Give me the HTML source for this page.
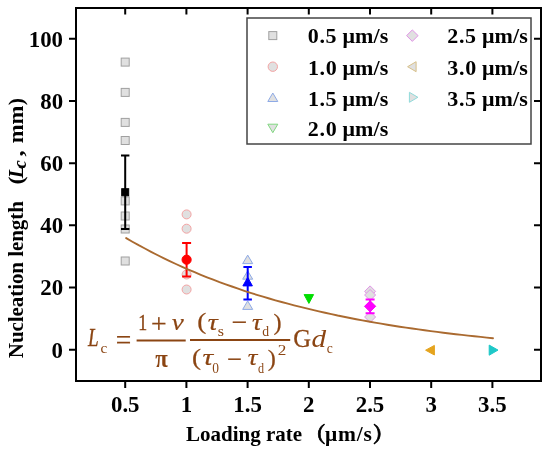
<!DOCTYPE html>
<html><head><meta charset="utf-8"><style>
html,body{margin:0;padding:0;background:#fff;}
body{width:550px;height:453px;overflow:hidden;position:relative;}
svg{position:absolute;left:0;top:0;}
.t{font-family:"Liberation Serif","Noto Serif CJK SC",serif;font-weight:bold;fill:#000;}
</style></head><body>
<svg width="550" height="453" viewBox="0 0 550 453">

<rect x="121.2" y="58.1" width="8" height="8" fill="#e0e0e0" stroke="#a0a0a0" stroke-width="1" opacity="1"/>
<rect x="121.2" y="88.4" width="8" height="8" fill="#e0e0e0" stroke="#a0a0a0" stroke-width="1" opacity="1"/>
<rect x="121.2" y="118.4" width="8" height="8" fill="#e0e0e0" stroke="#a0a0a0" stroke-width="1" opacity="1"/>
<rect x="121.2" y="136.5" width="8" height="8" fill="#e0e0e0" stroke="#a0a0a0" stroke-width="1" opacity="1"/>
<rect x="121.2" y="196.9" width="8" height="8" fill="#e0e0e0" stroke="#a0a0a0" stroke-width="1" opacity="1"/>
<rect x="121.2" y="212.0" width="8" height="8" fill="#e0e0e0" stroke="#a0a0a0" stroke-width="1" opacity="1"/>
<rect x="121.2" y="225.0" width="8" height="8" fill="#e0e0e0" stroke="#a0a0a0" stroke-width="1" opacity="1"/>
<rect x="121.2" y="257.0" width="8" height="8" fill="#e0e0e0" stroke="#a0a0a0" stroke-width="1" opacity="1"/>
<path d="M125.2,155.4 V228.9 M121.0,155.4 H129.4 M121.0,228.9 H129.4" stroke="#000" stroke-width="2" fill="none"/>
<rect x="121.7" y="188.7" width="7" height="7" fill="#000" stroke="#000" stroke-width="1" opacity="1"/>
<circle cx="186.6" cy="214.4" r="4.5" fill="#e0e0e0" stroke="#f4a4a4" stroke-width="1" opacity="1"/>
<circle cx="186.6" cy="228.7" r="4.5" fill="#e0e0e0" stroke="#f4a4a4" stroke-width="1" opacity="1"/>
<circle cx="186.6" cy="274.5" r="4.5" fill="#e0e0e0" stroke="#f4a4a4" stroke-width="1" opacity="1"/>
<circle cx="186.6" cy="289.5" r="4.5" fill="#e0e0e0" stroke="#f4a4a4" stroke-width="1" opacity="1"/>
<path d="M186.6,243.1 V276.5 M182.1,243.1 H191.1 M182.1,276.5 H191.1" stroke="#ff0000" stroke-width="2" fill="none"/>
<circle cx="186.6" cy="259.7" r="4.6" fill="#ff0000" stroke="#ff0000" stroke-width="1" opacity="1"/>
<polygon points="247.7,255.1 252.7,263.6 242.7,263.6" fill="#e0e0e0" stroke="#8eaae6" stroke-width="1" stroke-linejoin="round" opacity="1"/>
<polygon points="247.7,270.8 252.7,279.2 242.7,279.2" fill="#e0e0e0" stroke="#8eaae6" stroke-width="1" stroke-linejoin="round" opacity="1"/>
<polygon points="247.7,300.9 252.7,309.4 242.7,309.4" fill="#e0e0e0" stroke="#8eaae6" stroke-width="1" stroke-linejoin="round" opacity="1"/>
<path d="M247.7,266.9 V299.5 M243.4,266.9 H251.9 M243.4,299.5 H251.9" stroke="#0000ff" stroke-width="2" fill="none"/>
<polygon points="247.7,277.4 252.4,285.9 242.9,285.9" fill="#0000ff" stroke="#0000ff" stroke-width="1" stroke-linejoin="round" opacity="1"/>
<polygon points="308.9,303.4 313.6,294.6 304.1,294.6" fill="#00dd00" stroke="#00dd00" stroke-width="1" stroke-linejoin="round" opacity="1"/>
<polygon points="370.1,285.9 375.6,291.4 370.1,296.9 364.6,291.4" fill="#e0e0e0" stroke="#e294e8" stroke-width="1" opacity="1"/>
<polygon points="370.1,289.5 375.6,295.0 370.1,300.5 364.6,295.0" fill="#e0e0e0" stroke="#e294e8" stroke-width="1" opacity="1"/>
<polygon points="370.1,300.8 375.6,306.3 370.1,311.8 364.6,306.3" fill="#e0e0e0" stroke="#e294e8" stroke-width="1" opacity="1"/>
<polygon points="370.1,311.5 375.6,317.0 370.1,322.5 364.6,317.0" fill="#e0e0e0" stroke="#e294e8" stroke-width="1" opacity="1"/>
<path d="M370.1,299.4 V313.3 M365.6,299.4 H374.6 M365.6,313.3 H374.6" stroke="#ff00ff" stroke-width="2" fill="none"/>
<polygon points="370.1,300.8 375.6,306.3 370.1,311.8 364.6,306.3" fill="#ff00ff" stroke="#ff00ff" stroke-width="1" opacity="1"/>
<polygon points="425.6,350.2 434.4,345.4 434.4,355.0" fill="#e5a41e" stroke="#e5a41e" stroke-width="1" stroke-linejoin="round" opacity="1"/>
<polygon points="498.0,350.1 489.2,345.1 489.2,355.2" fill="#1ec8c8" stroke="#1ec8c8" stroke-width="1" stroke-linejoin="round" opacity="1"/>
<path d="M126.2,238.1 L132.4,241.7 L138.6,245.2 L144.9,248.5 L151.1,251.8 L157.3,255.0 L163.5,258.1 L169.7,261.1 L175.9,264.0 L182.2,266.8 L188.4,269.6 L194.6,272.2 L200.8,274.8 L207.0,277.3 L213.2,279.7 L219.5,282.1 L225.7,284.3 L231.9,286.5 L238.1,288.7 L244.3,290.8 L250.5,292.8 L256.8,294.8 L263.0,296.7 L269.2,298.5 L275.4,300.3 L281.6,302.0 L287.8,303.7 L294.1,305.3 L300.3,306.9 L306.5,308.4 L312.7,309.9 L318.9,311.4 L325.1,312.8 L331.4,314.1 L337.6,315.5 L343.8,316.7 L350.0,318.0 L356.2,319.2 L362.4,320.4 L368.7,321.5 L374.9,322.6 L381.1,323.6 L387.3,324.7 L393.5,325.7 L399.7,326.7 L406.0,327.6 L412.2,328.5 L418.4,329.4 L424.6,330.3 L430.8,331.1 L437.0,331.9 L443.3,332.7 L449.5,333.5 L455.7,334.2 L461.9,334.9 L468.1,335.6 L474.3,336.3 L480.6,336.9 L486.8,337.6 L493.0,338.2" fill="none" stroke="#aa6a30" stroke-width="1.9" stroke-linecap="round"/>
<rect x="76" y="8" width="465" height="373" fill="none" stroke="#000" stroke-width="2"/>
<path d="M125.2,381 V388 M125.2,8 V14.5 M186.4,381 V388 M186.4,8 V14.5 M247.6,381 V388 M247.6,8 V14.5 M308.8,381 V388 M308.8,8 V14.5 M370.0,381 V388 M370.0,8 V14.5 M431.2,381 V388 M431.2,8 V14.5 M492.4,381 V388 M492.4,8 V14.5 M76,349.7 H69 M541,349.7 H534 M76,287.5 H69 M541,287.5 H534 M76,225.3 H69 M541,225.3 H534 M76,163.2 H69 M541,163.2 H534 M76,101.0 H69 M541,101.0 H534 M76,38.8 H69 M541,38.8 H534" stroke="#000" stroke-width="2" fill="none"/>
<text class="t" transform="translate(125.25,412.0) scale(0.97,1)" font-size="23.6" text-anchor="middle">0.5</text>
<text class="t" transform="translate(186.43,412.0) scale(0.97,1)" font-size="23.6" text-anchor="middle">1</text>
<text class="t" transform="translate(247.62,412.0) scale(0.97,1)" font-size="23.6" text-anchor="middle">1.5</text>
<text class="t" transform="translate(308.80,412.0) scale(0.97,1)" font-size="23.6" text-anchor="middle">2</text>
<text class="t" transform="translate(369.99,412.0) scale(0.97,1)" font-size="23.6" text-anchor="middle">2.5</text>
<text class="t" transform="translate(431.17,412.0) scale(0.97,1)" font-size="23.6" text-anchor="middle">3</text>
<text class="t" transform="translate(492.36,412.0) scale(0.97,1)" font-size="23.6" text-anchor="middle">3.5</text>
<text class="t" transform="translate(63.07,357.55) scale(0.97,1)" font-size="23.6" text-anchor="end">0</text>
<text class="t" transform="translate(63.07,295.37) scale(0.97,1)" font-size="23.6" text-anchor="end">20</text>
<text class="t" transform="translate(63.07,233.19) scale(0.97,1)" font-size="23.6" text-anchor="end">40</text>
<text class="t" transform="translate(63.07,171.01) scale(0.97,1)" font-size="23.6" text-anchor="end">60</text>
<text class="t" transform="translate(63.07,108.83) scale(0.97,1)" font-size="23.6" text-anchor="end">80</text>
<text class="t" transform="translate(63.07,46.65) scale(0.97,1)" font-size="23.6" text-anchor="end">100</text>
<text class="t" x="186" y="441.2" font-size="21">Loading rate</text>
<text class="t" x="304.8" y="441.5" font-size="21" style="font-family:&apos;Noto Serif CJK SC&apos;,serif" stroke="#000" stroke-width="0.7">（</text>
<text class="t" x="325.03" y="441.00" font-size="21.5" textLength="46.90" lengthAdjust="spacing" >μm/s</text>
<text class="t" x="372.8" y="441.5" font-size="21" style="font-family:&apos;Noto Serif CJK SC&apos;,serif" stroke="#000" stroke-width="0.7">）</text>
<text class="t" transform="translate(23.4,0) rotate(-90)" x="-358.20" y="0" font-size="21" textLength="157.02" lengthAdjust="spacing">Nucleation length</text>
<text class="t" transform="translate(23.40,0) rotate(-90)" x="-184.47" y="0" font-size="22" font-style="normal" textLength="7.98" lengthAdjust="spacingAndGlyphs">(</text>
<text class="t" transform="translate(23.40,0) rotate(-90)" x="-178.14" y="0" font-size="22" font-style="italic" textLength="12.53" lengthAdjust="spacingAndGlyphs">L</text>
<text class="t" transform="translate(26.30,0) rotate(-90)" x="-168.17" y="0" font-size="18.5" font-style="italic" textLength="8.04" lengthAdjust="spacingAndGlyphs">c</text>
<text class="t" transform="translate(23.40,0) rotate(-90)" x="-156.49" y="0" font-size="22" font-style="normal" textLength="6.13" lengthAdjust="spacingAndGlyphs">,</text>
<text class="t" transform="translate(23.40,0) rotate(-90)" x="-143.39" y="0" font-size="22" font-style="normal" textLength="37.77" lengthAdjust="spacingAndGlyphs">mm</text>
<text class="t" transform="translate(23.40,0) rotate(-90)" x="-105.31" y="0" font-size="22" font-style="normal" textLength="7.28" lengthAdjust="spacingAndGlyphs">)</text>
<rect x="247" y="18" width="284" height="126" fill="#fff" stroke="#444" stroke-width="1.5"/>
<rect x="268.8" y="31.6" width="8" height="8" fill="#e0e0e0" stroke="#a0a0a0" stroke-width="1" opacity="1"/>
<circle cx="272.8" cy="66.7" r="4.7" fill="#e0e0e0" stroke="#f4a4a4" stroke-width="1" opacity="1"/>
<polygon points="272.8,93.0 277.8,101.5 267.8,101.5" fill="#e0e0e0" stroke="#8eaae6" stroke-width="1" stroke-linejoin="round" opacity="1"/>
<polygon points="272.8,132.7 277.8,124.2 267.8,124.2" fill="#e0e0e0" stroke="#80d880" stroke-width="1" stroke-linejoin="round" opacity="1"/>
<polygon points="412.3,29.9 418.1,35.6 412.3,41.4 406.6,35.6" fill="#e0e0e0" stroke="#e294e8" stroke-width="1" opacity="1"/>
<polygon points="407.6,66.7 416.1,61.7 416.1,71.7" fill="#e0e0e0" stroke="#d8c088" stroke-width="1" stroke-linejoin="round" opacity="1"/>
<polygon points="417.9,97.3 409.4,92.3 409.4,102.3" fill="#e0e0e0" stroke="#90dada" stroke-width="1" stroke-linejoin="round" opacity="1"/>
<text class="t" x="307.76" y="43.30" font-size="22" textLength="28.84" lengthAdjust="spacing" >0.5</text>
<text class="t" x="342.52" y="43.30" font-size="22" textLength="45.82" lengthAdjust="spacing" >μm/s</text>
<text class="t" x="308.04" y="75.00" font-size="22" textLength="28.60" lengthAdjust="spacing" >1.0</text>
<text class="t" x="342.52" y="75.00" font-size="22" textLength="45.82" lengthAdjust="spacing" >μm/s</text>
<text class="t" x="308.04" y="105.80" font-size="22" textLength="28.57" lengthAdjust="spacing" >1.5</text>
<text class="t" x="342.52" y="105.80" font-size="22" textLength="45.82" lengthAdjust="spacing" >μm/s</text>
<text class="t" x="307.68" y="136.40" font-size="22" textLength="28.96" lengthAdjust="spacing" >2.0</text>
<text class="t" x="342.52" y="136.40" font-size="22" textLength="45.82" lengthAdjust="spacing" >μm/s</text>
<text class="t" x="447.18" y="43.30" font-size="22" textLength="28.93" lengthAdjust="spacing" >2.5</text>
<text class="t" x="482.02" y="43.30" font-size="22" textLength="45.82" lengthAdjust="spacing" >μm/s</text>
<text class="t" x="447.27" y="75.00" font-size="22" textLength="28.87" lengthAdjust="spacing" >3.0</text>
<text class="t" x="482.02" y="75.00" font-size="22" textLength="45.82" lengthAdjust="spacing" >μm/s</text>
<text class="t" x="447.27" y="105.80" font-size="22" textLength="28.83" lengthAdjust="spacing" >3.5</text>
<text class="t" x="482.02" y="105.80" font-size="22" textLength="45.82" lengthAdjust="spacing" >μm/s</text>
<text transform="translate(88.03,346.20) scale(0.768,1)" font-family='"Liberation Serif",serif' font-size="25" font-style="italic" font-weight="normal" fill="#8b4513" stroke="#8b4513" stroke-width="0.325">L</text>
<text transform="translate(100.42,352.80) scale(0.981,1)" font-family='"Liberation Serif",serif' font-size="15.5" font-style="normal" font-weight="normal" fill="#8b4513" stroke="#8b4513" stroke-width="0.000">c</text>
<text transform="translate(115.63,348.60) scale(1.019,1)" font-family='"Liberation Serif",serif' font-size="27" font-style="normal" font-weight="normal" fill="#8b4513" stroke="#8b4513" stroke-width="0.245">=</text>
<path d="M136.6,340.5 H185.7 M190,340.1 H290.2" stroke="#8b4513" stroke-width="2"/>
<text transform="translate(138.23,329.50) scale(0.746,1)" font-family='"Liberation Serif",serif' font-size="24" font-style="normal" font-weight="normal" fill="#8b4513" stroke="#8b4513" stroke-width="0.335">1</text>
<text transform="translate(151.02,333.00) scale(1.027,1)" font-family='"Liberation Serif",serif' font-size="27" font-style="normal" font-weight="normal" fill="#8b4513" stroke="#8b4513" stroke-width="0.243">+</text>
<text transform="translate(171.83,329.50) scale(1.124,1)" font-family='"Liberation Serif",serif' font-size="24" font-style="italic" font-weight="normal" fill="#8b4513" stroke="#8b4513" stroke-width="0.223">ν</text>
<text transform="translate(155.31,367.30) scale(0.933,1)" font-family='"Liberation Serif",serif' font-size="24.5" font-style="normal" font-weight="bold" fill="#8b4513" stroke="#8b4513" stroke-width="0.000">π</text>
<text transform="translate(197.20,329.30) scale(1.136,1)" font-family='"Liberation Serif",serif' font-size="24" font-style="normal" font-weight="normal" fill="#8b4513" stroke="#8b4513" stroke-width="0.220">(</text>
<text transform="translate(207.79,329.50) scale(1.161,1)" font-family='"Liberation Serif",serif' font-size="24" font-style="italic" font-weight="normal" fill="#8b4513" stroke="#8b4513" stroke-width="0.215">τ</text>
<text transform="translate(217.64,336.20) scale(1.068,1)" font-family='"Liberation Serif",serif' font-size="15" font-style="normal" font-weight="normal" fill="#8b4513" stroke="#8b4513" stroke-width="0.000">s</text>
<text transform="translate(231.52,330.80) scale(1.027,1)" font-family='"Liberation Serif",serif' font-size="27" font-style="normal" font-weight="normal" fill="#8b4513" stroke="#8b4513" stroke-width="0.243">−</text>
<text transform="translate(252.11,329.50) scale(1.115,1)" font-family='"Liberation Serif",serif' font-size="24" font-style="italic" font-weight="normal" fill="#8b4513" stroke="#8b4513" stroke-width="0.224">τ</text>
<text transform="translate(262.20,336.20) scale(0.915,1)" font-family='"Liberation Serif",serif' font-size="15" font-style="normal" font-weight="normal" fill="#8b4513" stroke="#8b4513" stroke-width="0.000">d</text>
<text transform="translate(273.42,329.50) scale(1.006,1)" font-family='"Liberation Serif",serif' font-size="24" font-style="normal" font-weight="normal" fill="#8b4513" stroke="#8b4513" stroke-width="0.249">)</text>
<text transform="translate(191.90,365.40) scale(1.136,1)" font-family='"Liberation Serif",serif' font-size="24" font-style="normal" font-weight="normal" fill="#8b4513" stroke="#8b4513" stroke-width="0.220">(</text>
<text transform="translate(202.45,365.40) scale(1.240,1)" font-family='"Liberation Serif",serif' font-size="24" font-style="italic" font-weight="normal" fill="#8b4513" stroke="#8b4513" stroke-width="0.202">τ</text>
<text transform="translate(212.29,372.70) scale(0.897,1)" font-family='"Liberation Serif",serif' font-size="15" font-style="normal" font-weight="normal" fill="#8b4513" stroke="#8b4513" stroke-width="0.000">0</text>
<text transform="translate(226.88,368.40) scale(0.979,1)" font-family='"Liberation Serif",serif' font-size="27" font-style="normal" font-weight="normal" fill="#8b4513" stroke="#8b4513" stroke-width="0.255">−</text>
<text transform="translate(247.81,365.40) scale(1.115,1)" font-family='"Liberation Serif",serif' font-size="24" font-style="italic" font-weight="normal" fill="#8b4513" stroke="#8b4513" stroke-width="0.224">τ</text>
<text transform="translate(257.96,372.70) scale(0.812,1)" font-family='"Liberation Serif",serif' font-size="15" font-style="normal" font-weight="normal" fill="#8b4513" stroke="#8b4513" stroke-width="0.000">d</text>
<text transform="translate(267.72,366.20) scale(1.006,1)" font-family='"Liberation Serif",serif' font-size="24" font-style="normal" font-weight="normal" fill="#8b4513" stroke="#8b4513" stroke-width="0.249">)</text>
<text transform="translate(277.74,354.80) scale(1.229,1)" font-family='"Liberation Serif",serif' font-size="14" font-style="normal" font-weight="normal" fill="#8b4513" stroke="#8b4513" stroke-width="0.000">2</text>
<text transform="translate(293.19,346.90) scale(0.965,1)" font-family='"Liberation Serif",serif' font-size="25.5" font-style="normal" font-weight="normal" fill="#8b4513" stroke="#8b4513" stroke-width="0.259">G</text>
<text transform="translate(311.52,346.90) scale(1.124,1)" font-family='"Liberation Serif",serif' font-size="26" font-style="italic" font-weight="normal" fill="#8b4513" stroke="#8b4513" stroke-width="0.000">d</text>
<text transform="translate(326.78,352.80) scale(0.877,1)" font-family='"Liberation Serif",serif' font-size="15.5" font-style="normal" font-weight="normal" fill="#8b4513" stroke="#8b4513" stroke-width="0.000">c</text>
</svg></body></html>
